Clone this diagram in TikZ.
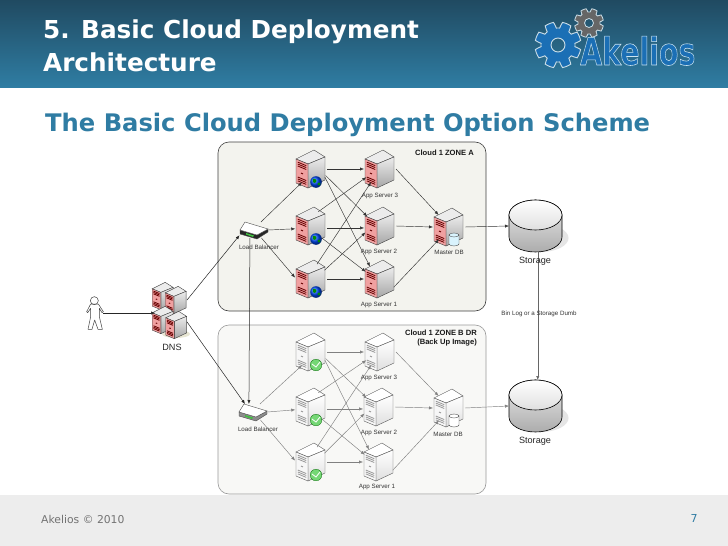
\documentclass[tikz,border=0pt]{standalone}
\usepackage{fontspec}
\usepackage{graphicx}
\setmainfont{Liberation Sans}
\newfontfamily\headfont{DejaVu Sans}
\usetikzlibrary{arrows.meta}
\definecolor{teal}{HTML}{2F7CA3}
\definecolor{hdtop}{HTML}{204A61}
\definecolor{hdbot}{HTML}{2F7DA3}
\definecolor{logoblue}{HTML}{1B6FB5}
\definecolor{zonea}{HTML}{F3F3EE}
\definecolor{zoneb}{HTML}{F8F8F6}
\definecolor{pinkf}{HTML}{F0A0A0}
\newcommand\fs[1]{\fontsize{#1}{#1}\selectfont}
\newcommand\varA{\colorlet{stopc}{gray!15}\colorlet{sfront}{pinkf}\colorlet{sslot}{red!40!black}\colorlet{sedge}{black!75}\colorlet{sa}{gray!15}\colorlet{sb}{gray!70}}
\newcommand\varB{\colorlet{stopc}{white}\colorlet{sfront}{gray!6}\colorlet{sslot}{gray!80}\colorlet{sedge}{black!65}\colorlet{sa}{white}\colorlet{sb}{gray!25}}
\newcommand\srvart[3]{\begin{scope}[shift={(#1,#2)},scale=#3]
  \path[draw=sedge,line width=.4pt,fill=stopc] (-15,-10)--(3,-19)--(14,-12)--(-3,-5)--cycle;
  \path[draw=sedge,line width=.4pt,top color=sa,bottom color=sb] (-3,-5)--(14,-12)--(14,11)--(-3,19)--cycle;
  \path[draw=sedge,line width=.4pt,fill=sfront] (-15,-10)--(-3,-5)--(-3,19)--(-15,14)--cycle;
  \begin{scope}[shift={(-15,-10)},x={(12pt,-5pt)},y={(0pt,-24pt)}]
    \foreach \vv in {.1,.18,.26,.72,.8,.88} \draw[sslot,line width=.8pt] (.15,\vv)--(.85,\vv);
    \draw[sslot,line width=.9pt] (.42,.5)--(.58,.5);
  \end{scope}
\end{scope}}
\newcommand\srv[3]{\srvart{#2}{#3}{1}\node[srvnode] (#1) at (#2,#3) {};}
\newcommand\globeA[2]{\begin{scope}[shift={(#1,#2)}]
  \shade[ball color=blue!70!cyan] (5,13) circle[radius=5.8];
  \fill[green!55!black] (2,10) .. controls (5,9) and (7,12) .. (4,14) .. controls (2,15) and (1,12) .. (2,10);
  \fill[green!55!black] (8,15) circle[radius=1.6];
\end{scope}}
\newcommand\globeB[2]{\begin{scope}[shift={(#1,#2)}]
  \path[fill=green!55!gray!70,draw=green!40!black,line width=.3pt] (5,13) circle[radius=5.8];
  \draw[white,line width=.8pt] (1,12)--(5,15)--(9,10);
\end{scope}}
\newcommand\dbicon[3]{\begin{scope}[shift={(#1,#2)}]
  \path[fill=#3,draw=black!70,line width=.4pt] (0,8)--(0,17) arc[start angle=180,end angle=0,x radius=5,y radius=2] -- (10,8) arc[start angle=0,end angle=-180,x radius=5,y radius=2];
  \draw[black!70,line width=.4pt] (0,8) arc[start angle=180,end angle=0,x radius=5,y radius=2];
\end{scope}}
\newcommand\lbart[4]{\begin{scope}[shift={(#1,#2)}]
  \path[fill=#4,draw=black!70,line width=.4pt] (-14,0)--(3,5)--(14,-1)--(14,2)--(3,9)--(-14,4)--cycle;
  \path[fill=#3,draw=black!70,line width=.4pt] (-14,0)--(-9,-8)--(14,-1)--(3,5)--cycle;
  \fill[gray!50!green] (-8,3)--(0,5.5)--(-1,7)--(-8,4.5)--cycle;
\end{scope}}
\newcommand\cyl[2]{\begin{scope}[shift={(#1,#2)}]
  \fill[gray!20] (5,12) ellipse[x radius=28,y radius=14];
  \path[draw=black,line width=.6pt,top color=gray!15,bottom color=gray!65] (-26.5,-11)--(-26.5,11) arc[start angle=180,end angle=0,x radius=26.5,y radius=15] -- (26.5,-11) arc[start angle=0,end angle=-180,x radius=26.5,y radius=15];
  \path[draw=black,line width=.6pt,top color=white,bottom color=gray!25] (0,-11) ellipse[x radius=26.5,y radius=15];
\end{scope}}
\newcommand\gearshape[6]{\begin{scope}[shift={(#1,#2)}]
  \path[#6,even odd rule] plot[samples=193,domain=0:360,variable=\ga] ({\ga}:{#3+(#4-#3)*min(1,max(0,3-abs(mod(\ga,45)/45-.5)*8))}) -- cycle (0,0) circle[radius=#5];
\end{scope}}
\newcommand\mesh[2]{
  \draw[#2] (#1l.49)--(#1a1.236);
  \draw[#2] (#1l.east)--(#1a2.190);
  \draw[#2] (#1l.-47)--(#1a3.175);
  \draw[#2] (#1a1.east)--(#1b1.west);
  \draw[#2] (#1a1.-24)--(#1b2.143);
  \draw[#2] (#1a1.-30)--(#1b3.129);
  \draw[#2] (#1a2.63)--(#1b1.211);
  \draw[#2] (#1a2.-7)--(#1b2.187);
  \draw[#2] (#1a2.-48)--(#1b3.153);
  \draw[#2] (#1a3.68)--(#1b1.236);
  \draw[#2] (#1a3.33)--(#1b2.204);
  \draw[#2] (#1a3.east)--(#1b3.west);
  \draw[#2] (#1b1.east)--(#1d.131);
  \draw[#2] (#1b2.east)--(#1d.west);
  \draw[#2] (#1b3.-31)--(#1d.231);
}
\tikzset{
  srvnode/.style={circle,minimum size=32pt,inner sep=0pt,outer sep=0pt},
  lbnode/.style={rectangle,minimum width=29pt,minimum height=16pt,inner sep=0pt,outer sep=0pt},
  cylnode/.style={rectangle,minimum width=53pt,minimum height=52pt,inner sep=0pt,outer sep=0pt},
  lab/.style={inner sep=0pt,text=black!80,font=\fs{6.2}},
  biglab/.style={inner sep=0pt,text=black!85,font=\fs{9.1}},
  zonelab/.style={inner sep=0pt,text=black!90,font=\fs{7.6}\bfseries},
  connA/.style={line width=.45pt,draw=black!80,-{Latex[length=4pt,width=3.2pt]}},
  connB/.style={line width=.45pt,draw=black!50,-{Latex[length=4pt,width=3.2pt]}},
  connK/.style={line width=.5pt,draw=black!85,-{Latex[length=4pt,width=3.2pt]}},
  zoneA/.style={rounded corners=11pt,fill=zonea,draw=black!75,line width=.6pt},
  zoneB/.style={rounded corners=11pt,fill=zoneb,draw=black!40,line width=.6pt},
}
\begin{document}
\begin{tikzpicture}[x=1pt,y=-1pt]
\useasboundingbox (0,0) rectangle (728,546);
\fill[white] (0,0) rectangle (728,546);
\shade[top color=hdtop,bottom color=hdbot] (0,0) rectangle (728,87);
\fill[black!7] (0,495) rectangle (728,546);
% header
\node[anchor=base west,inner sep=0pt,text=white,font=\headfont\bfseries\fs{24.7}] (t1) at (43,38) {5. Basic Cloud Deployment};
\node[anchor=base west,inner sep=0pt,text=white,font=\headfont\bfseries\fs{24.7}] (t2) at (43,71) {Architecture};
\node[anchor=base west,inner sep=0pt,text=teal,font=\headfont\bfseries\fs{24.2}] (t3) at (45,131) {The Basic Cloud Deployment Option Scheme};
% logo
\gearshape{589}{23}{11}{14.5}{4.5}{fill=black!60,draw=white!75!teal,line width=.8pt}
\gearshape{558}{45}{17}{23}{7}{fill=logoblue,draw=white!75!teal,line width=.9pt}
\node[anchor=base west,inner sep=0pt,font=\headfont\bfseries\fs{33},text=logoblue] (logo) at (580,65) {\scalebox{.86}[1.15]{\special{pdf: code 2 Tr 0.5 w 0.8 0.9 0.95 RG}Akelios\special{pdf: code 0 Tr 0 w}}};
% footer
\node[anchor=base west,inner sep=0pt,text=black!55,font=\headfont\fs{10.8}] (foot) at (41,523) {Akelios © 2010};
\node[anchor=base,inner sep=0pt,text=teal,font=\headfont\fs{11}] (page) at (694,522) {7};
% zones
\path[zoneA] (218,142) rectangle (486,311);
\path[zoneB] (218,325) rectangle (486,494);
% zone A
\varA
\lbart{254}{230}{white}{black!85}
\node[lbnode] (al) at (254,230) {};
\srv{aa1}{311}{169}\srv{aa2}{311}{226}\srv{aa3}{311}{279}
\srv{ab1}{380}{169}\srv{ab2}{380}{226}\srv{ab3}{380}{279}
\srv{ad}{449}{227}
\globeA{311}{169}\globeA{311}{226}\globeA{311}{279}
\dbicon{449}{227}{cyan!15!white}
% zone B
\varB
\lbart{253}{412}{white}{black!45}
\node[lbnode] (bl) at (253,412) {};
\srv{ba1}{311}{352}\srv{ba2}{311}{407}\srv{ba3}{311}{462}
\srv{bb1}{380}{352}\srv{bb2}{379}{407}\srv{bb3}{379}{462}
\srv{bd}{449}{408}
\globeB{311}{352}\globeB{311}{407}\globeB{311}{462}
\dbicon{449}{408}{white}
% DNS
\varA
\fill[yellow!30!gray!30] (176,334) ellipse[x radius=14,y radius=4];
\srvart{163}{296}{.72}\srvart{176}{300}{.72}\srvart{163}{320}{.72}\srvart{176.5}{325}{.72}
\node[rectangle,minimum width=32pt,minimum height=46pt,inner sep=0pt,outer sep=0pt] (dns) at (171,313) {};
% storage
\cyl{535.5}{226}\cyl{535.5}{406}
\node[cylnode] (s1) at (535.5,226) {};
\node[cylnode] (s2) at (535.5,406) {};
% person
\begin{scope}[shift={(70,270)},scale=1/3]
  \draw[black!75,line width=.5pt] (73,92) circle[radius=12];
  \draw[black!75,line width=.5pt,line join=round] (62,102)--(85,102)--(100,125)--(96,128)--(88,115)--(88,140)--(97,178)--(84,178)--(74,150)--(66,178)--(54,178)--(62,140)--(62,115)--(53,128)--(50,125)--cycle;
\end{scope}
\node[rectangle,minimum width=16pt,minimum height=34pt,inner sep=0pt,outer sep=0pt] (person) at (95,313) {};
% connectors
\mesh{a}{connA}
\mesh{b}{connB}
\draw[connK] (person.east)--(dns.west);
\draw[connK] (dns.39)--(al.200);
\draw[connK] (dns.-29)--(bl.135);
\draw[connK] (al.243)--(bl.117);
\draw[connA] (ad.east)--(s1.west);
\draw[connB] (bd.east)--(s2.west);
\draw[line width=.5pt,draw=black!60,-{Latex[length=4pt,width=3.2pt]}] (s1.-85)--(s2.85);
% labels
\node[lab] (l1) at (380,196) {App Server 3};
\node[lab] (l2) at (379,252) {App Server 2};
\node[lab] (l3) at (379,305) {App Server 1};
\node[lab] (l4) at (449,252) {Master DB};
\node[lab] (l5) at (259,247) {Load Balancer};
\node[lab] (l6) at (379,378) {App Server 3};
\node[lab] (l7) at (379,433) {App Server 2};
\node[lab] (l8) at (377,487) {App Server 1};
\node[lab] (l9) at (448,434) {Master DB};
\node[lab] (l10) at (258,429) {Load Balancer};
\node[lab] (l11) at (539,314) {Bin Log or a Storage Dumb};
\node[biglab] (l12) at (535,261) {Storage};
\node[biglab] (l13) at (535,441) {Storage};
\node[biglab] (l14) at (172,347) {DNS};
\node[zonelab,anchor=east] (z1) at (474,153) {Cloud 1 ZONE A};
\node[zonelab,anchor=east] (z2) at (477,333) {Cloud 1 ZONE B DR};
\node[zonelab,anchor=east] (z3) at (477,343) {(Back Up Image)};
\end{tikzpicture}
\end{document}
